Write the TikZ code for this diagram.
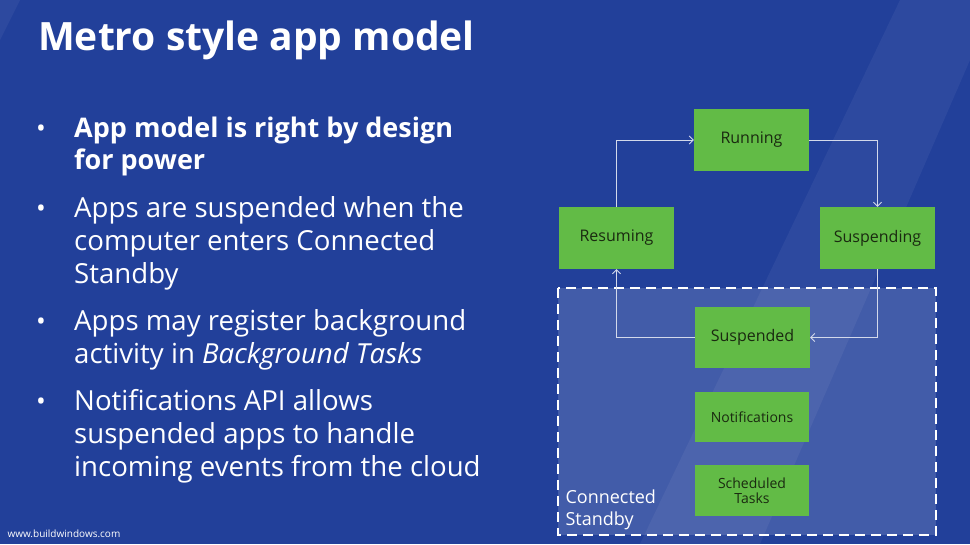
\documentclass[tikz,border=0pt]{standalone}
\usepackage{fontspec}
\setmainfont{Open Sans}
\definecolor{bg}{HTML}{22409A}
\definecolor{gr}{HTML}{62BB46}
\definecolor{txt}{HTML}{1A2A10}
\begin{document}
\begin{tikzpicture}[x=1pt,y=-1pt,
  box/.style={draw=none,fill=gr,text=txt,font=\fontsize{16}{19}\selectfont,align=center},
  conn/.style={draw=white!80!bg,line width=0.8pt,->,>={Straight Barb[length=4pt]}},
  bl/.style={anchor=base west,inner sep=0pt,text=white,font=\fontsize{27.6}{33}\selectfont}]
\usetikzlibrary{arrows.meta}
\fill[bg] (0,0) rectangle (970,544);
\fill[white,opacity=0.05] (0,0) -- (20,0) -- (0,40) -- cycle;
\fill[white,opacity=0.05] (640,544) -- (900,0) -- (970,0) -- (970,60) -- (760,544) -- cycle;
\fill[white,opacity=0.15] (558,288) rectangle (936,535);
\draw[white,line width=2.6pt,dash pattern=on 10pt off 6pt] (558,288) rectangle (936,535);
\node[anchor=base west,inner sep=0pt,text=white,font=\fontsize{39}{44}\selectfont\bfseries] (title) at (38,50) {Metro style app model};
\foreach \y in {137,217,330,410} \node[anchor=base west,inner sep=0pt,text=white,font=\fontsize{26}{30}\selectfont] at (36,\y) {•};
\node[bl,font=\fontsize{27}{33}\selectfont\bfseries] (b1) at (74,137) {App model is right by design};
\node[bl,font=\fontsize{27}{33}\selectfont\bfseries] (b1b) at (74,169) {for power};
\node[bl] (b2) at (74,217) {Apps are suspended when the};
\node[bl] (b2b) at (74,250) {computer enters Connected};
\node[bl] (b2c) at (74,283) {Standby};
\node[bl] (b3) at (74,330) {Apps may register background};
\node[bl] (b3b) at (74,363) {activity in \textit{Background Tasks}};
\node[bl] (b4) at (74,410) {Notifications API allows};
\node[bl] (b4b) at (74,443) {suspended apps to handle};
\node[bl] (b4c) at (74,476) {incoming events from the cloud};
\node[anchor=base west,text=white,font=\fontsize{10}{12}\selectfont] (web) at (4,537) {www.buildwindows.com};
\node[box,minimum width=115pt,minimum height=62pt] (run) at (751.5,140) {Running};
\node[box,minimum width=115pt,minimum height=62pt] (res) at (616.5,238) {Resuming};
\node[box,minimum width=115pt,minimum height=62pt] (sus) at (877.5,238) {Suspending};
\node[box,minimum width=115pt,minimum height=61pt] (sud) at (752.5,337.5) {Suspended};
\node[box,minimum width=114pt,minimum height=50pt,font=\fontsize{14}{17}\selectfont] (not) at (752,417) {Notifications};
\node[box,minimum width=114pt,minimum height=51pt,font=\fontsize{14}{17}\selectfont] (sch) at (752,490.5) {Scheduled\\[-2pt]Tasks};
\node[anchor=south west,text=white,align=left,font=\fontsize{18}{22}\selectfont] (cs) at (562,533) {Connected\\Standby};
\draw[conn] (res.north) |- (run.west);
\draw[conn] (run.east) -| (sus.north);
\draw[conn] (sus.south) |- (sud.east);
\draw[conn] (sud.west) -| (res.south);
\end{tikzpicture}
\end{document}
